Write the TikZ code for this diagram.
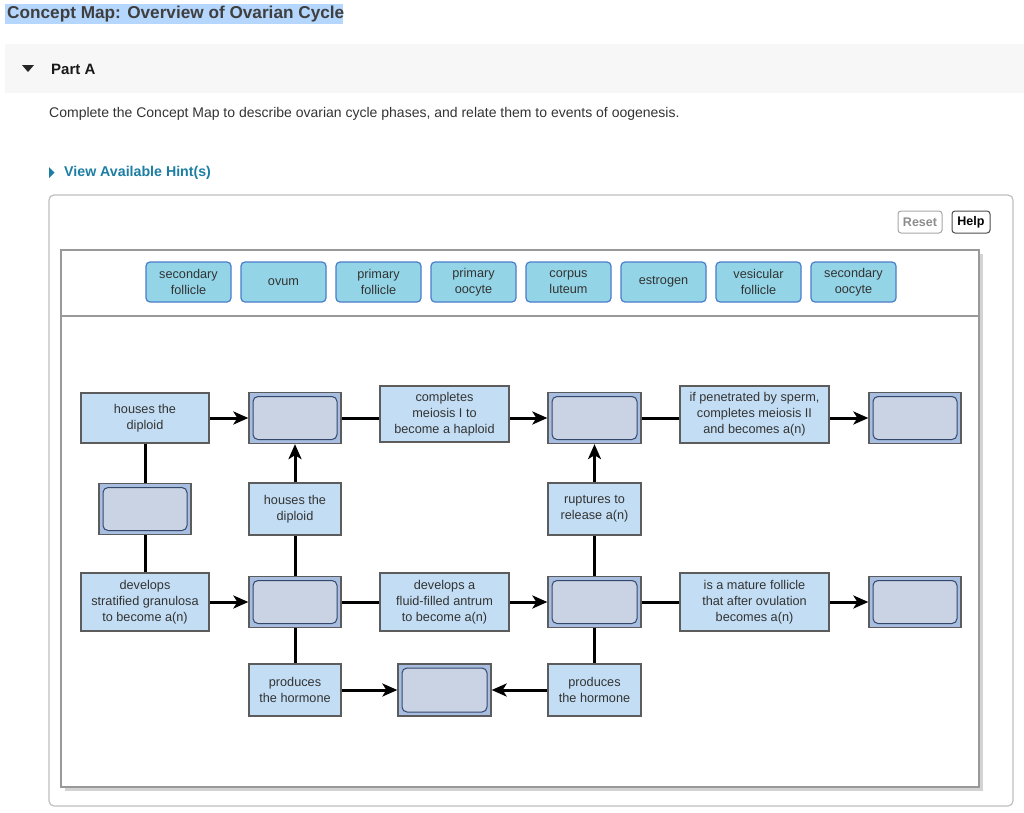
\documentclass[tikz,border=0pt]{standalone}
\usepackage{fontspec}
\setmainfont{Liberation Sans}
\usetikzlibrary{arrows.meta,shadows}

\definecolor{tilefill}{HTML}{93D5E7}
\definecolor{tileedge}{HTML}{4A7CCB}
\definecolor{linkfill}{HTML}{C3DEF4}
\definecolor{linkedge}{HTML}{5C5C5C}
\definecolor{slotfill}{HTML}{A8BEE1}
\definecolor{slotin}{HTML}{C9D3E4}
\definecolor{slotinedge}{HTML}{34476B}
\definecolor{hintblue}{HTML}{1C7EA2}
\definecolor{titlehl}{HTML}{B5D6FD}
\definecolor{titletext}{HTML}{3F3F3F}
\definecolor{barbg}{HTML}{F7F7F7}

\tikzset{
  tile/.style={draw=tileedge, fill=tilefill, line width=1.2pt, rounded corners=4pt,
    minimum width=85pt, minimum height=40pt, inner sep=0pt, align=center,
    text=black!80, font=\fontsize{12.7}{15.8}\selectfont},
  linkbox/.style={draw=linkedge, fill=linkfill, line width=1.3pt, inner sep=0pt,
    align=center, text=black!80, font=\fontsize{12.7}{15.8}\selectfont},
  slot/.style={draw=linkedge, fill=slotfill, line width=1.3pt, inner sep=0pt,
    minimum width=92pt, minimum height=51pt,
    path picture={\draw[slotinedge, fill=slotin, line width=1pt, rounded corners=5pt]
      ([shift={(4pt,4pt)}]path picture bounding box.south west) rectangle
      ([shift={(-4pt,-4pt)}]path picture bounding box.north east);}},
  conn/.style={line width=3pt, black},
  btn/.style={line width=1pt, rounded corners=3pt, minimum height=22pt, inner xsep=4pt,
    font=\bfseries\fontsize{12.5}{14}\selectfont},
  plain/.style={anchor=west, inner sep=0pt}
}

\begin{document}
\begin{tikzpicture}[x=1pt,y=-1pt,>={Stealth[length=15pt,width=13pt,inset=4pt]}]
\useasboundingbox (0,0) rectangle (1024,812);

% page header
\fill[titlehl] (5,4) rectangle (343,24);
\node[plain, text=titletext, font=\bfseries\fontsize{17.2}{20}\selectfont] (title) at (7,14)
  {Concept Map: Overview of Ovarian Cycle};
\fill[barbg] (5,44) rectangle (1024,93);
\fill[black!85] (22,65) -- (34,65) -- (28,72) -- cycle;
\node[plain, text=black!90, font=\bfseries\fontsize{15}{17}\selectfont] (parta) at (51,69) {Part A};
\node[plain, text=black!80, font=\fontsize{14}{16}\selectfont] (intro) at (49,114)
  {Complete the Concept Map to describe ovarian cycle phases, and relate them to events of oogenesis.};
\fill[hintblue] (49,167) -- (54.5,172.5) -- (49,178) -- cycle;
\node[plain, text=hintblue, font=\bfseries\fontsize{14.2}{17}\selectfont] (hint) at (64,173) {View Available Hint(s)};

% frame and buttons
\draw[black!25, line width=1.2pt, rounded corners=5pt] (49,195) rectangle (1013,806);
\node[btn, draw=black!35, text=black!45, minimum width=44pt] (reset) at (920,222) {Reset};
\node[btn, draw=black!70, text=black, minimum width=38pt] (help) at (971,222) {Help};

% concept map panel
\draw[black!40, line width=1.5pt, fill=white,
  drop shadow={shadow xshift=4pt, shadow yshift=-4pt, opacity=0.35}] (61,250) rectangle (979,787);
\draw[black!40, line width=2pt] (61,316) -- (979,316);

% word bank
\foreach \name/\txt [count=\i] in {secfol/{secondary\\follicle}, ovum/{ovum},
    prifol/{primary\\follicle}, prioo/{primary\\oocyte}, corlut/{corpus\\luteum},
    estro/{estrogen}, vesfol/{vesicular\\follicle}, secoo/{secondary\\oocyte}}
  \node[tile] (bank-\name) at ({93.5+95*\i},282) {\txt};

% map nodes
\node[linkbox, minimum width=128pt, minimum height=50pt] (housesA) at (145,418) {houses the\\diploid};
\node[slot] (slotA) at (145,509) {};
\node[linkbox, minimum width=128pt, minimum height=58pt] (stratified) at (145,602)
  {develops\\stratified granulosa\\to become a(n)};
\node[slot] (slotB) at (295,418) {};
\node[linkbox, minimum width=92pt, minimum height=52pt] (housesB) at (295,509) {houses the\\diploid};
\node[slot] (slotC) at (295,602) {};
\node[linkbox, minimum width=92pt, minimum height=52pt] (producesA) at (295,690) {produces\\the hormone};
\node[linkbox, minimum width=129pt, minimum height=56pt] (meiosisI) at (444.5,414)
  {completes\\meiosis I to\\become a haploid};
\node[linkbox, minimum width=129pt, minimum height=58pt] (antrum) at (444.5,602)
  {develops a\\fluid-filled antrum\\to become a(n)};
\node[slot, minimum width=93pt, minimum height=52pt] (slotD) at (444.5,690) {};
\node[slot, minimum width=93pt] (slotE) at (594.5,418) {};
\node[linkbox, minimum width=93pt, minimum height=52pt] (ruptures) at (594.5,509) {ruptures to\\release a(n)};
\node[slot, minimum width=93pt] (slotF) at (594.5,602) {};
\node[linkbox, minimum width=93pt, minimum height=52pt] (producesB) at (594.5,690) {produces\\the hormone};
\node[linkbox, minimum width=149pt, minimum height=57pt] (sperm) at (754.5,414.5)
  {if penetrated by sperm,\\completes meiosis II\\and becomes a(n)};
\node[linkbox, minimum width=149pt, minimum height=58pt] (mature) at (754.5,602)
  {is a mature follicle\\that after ovulation\\becomes a(n)};
\node[slot] (slotG) at (915,418) {};
\node[slot] (slotH) at (915,602) {};

% connectors
\draw[conn,->] (housesA) -- (slotB);
\draw[conn] (housesA) -- (slotA);
\draw[conn] (slotA) -- (stratified);
\draw[conn,->] (stratified) -- (slotC);
\draw[conn] (slotC) -- (housesB);
\draw[conn,->] (housesB) -- (slotB);
\draw[conn] (slotB) -- (slotB -| meiosisI.west);
\draw[conn,->] (meiosisI.east |- slotE) -- (slotE);
\draw[conn] (slotC) -- (antrum);
\draw[conn,->] (antrum) -- (slotF);
\draw[conn] (slotF) -- (ruptures);
\draw[conn,->] (ruptures) -- (slotE);
\draw[conn] (slotE) -- (slotE -| sperm.west);
\draw[conn,->] (sperm.east |- slotG) -- (slotG);
\draw[conn] (slotF) -- (mature);
\draw[conn,->] (mature) -- (slotH);
\draw[conn] (slotC) -- (producesA);
\draw[conn,->] (producesA) -- (slotD);
\draw[conn] (slotF) -- (producesB);
\draw[conn,->] (producesB) -- (slotD);
\end{tikzpicture}
\end{document}
